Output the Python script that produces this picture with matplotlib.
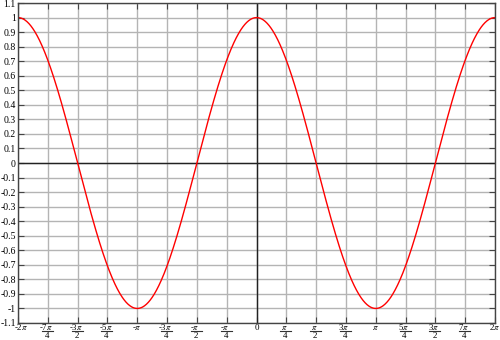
import numpy as np
import matplotlib
matplotlib.use("Agg")
import matplotlib.pyplot as plt
import matplotlib.transforms as mtransforms
from matplotlib.lines import Line2D

plt.rcParams['font.family'] = ['Liberation Serif', 'DejaVu Serif']
plt.rcParams['mathtext.fontset'] = 'stix'

# x ticks every pi/4 from -2pi to 2pi; (numerator, denominator) or (label, None)
x_tick_steps = [-8, -7, -6, -5, -4, -3, -2, -1, 0, 1, 2, 3, 4, 5, 6, 7, 8]
x_tick_labels = [('-2π', None), ('-7π', '4'), ('-3π', '2'), ('-5π', '4'),
                 ('-π', None), ('-3π', '4'), ('-π', '2'), ('-π', '4'),
                 ('0', None), ('π', '4'), ('π', '2'), ('3π', '4'),
                 ('π', None), ('5π', '4'), ('3π', '2'), ('7π', '4'), ('2π', None)]
y_ticks = [-1.1, -1.0, -0.9, -0.8, -0.7, -0.6, -0.5, -0.4, -0.3, -0.2, -0.1,
           0.0, 0.1, 0.2, 0.3, 0.4, 0.5, 0.6, 0.7, 0.8, 0.9, 1.0, 1.1]
y_tick_labels = ['-1.1', '-1', '-0.9', '-0.8', '-0.7', '-0.6', '-0.5', '-0.4', '-0.3', '-0.2', '-0.1',
                 '0', '0.1', '0.2', '0.3', '0.4', '0.5', '0.6', '0.7', '0.8', '0.9', '1', '1.1']

x = np.linspace(-2 * np.pi, 2 * np.pi, 1000)
y = np.cos(x)

W, H = 500, 340
fig = plt.figure(figsize=(W / 100, H / 100), dpi=100)
ax = fig.add_axes([0.036, 0.05, 0.954, 0.941])

ax.set_xlim(-2 * np.pi, 2 * np.pi)
ax.set_ylim(-1.1, 1.1)

xt = [k * np.pi / 4 for k in x_tick_steps]
ax.set_xticks(xt)
ax.set_xticklabels([])
ax.set_yticks(y_ticks)
ax.set_yticklabels(y_tick_labels, fontsize=7)

# x labels drawn by hand so the fractions can be stacked
trans = mtransforms.blended_transform_factory(ax.transData, fig.transFigure)
px = 4 * np.pi / 477  # data units per pixel along x
for xpos, (num, den) in zip(xt, x_tick_labels):
    num = num.replace('π', r'$\pi$')
    if den is None:
        dx = 3 * px if xpos < -6 else 0.0
        ax.text(xpos + dx, 1 - 330 / H, num, transform=trans, ha='center', va='baseline', fontsize=6.5)
    else:
        ax.text(xpos - 2 * px, 1 - 329.5 / H, num, transform=trans, ha='center', va='baseline', fontsize=6.2)
        fig.add_artist(Line2D([xpos - 6 * px, xpos + 5 * px], [1 - 331 / H, 1 - 331 / H],
                              transform=trans, color='#333333', linewidth=0.8))
        ax.text(xpos - 1 * px, 1 - 338.3 / H, den, transform=trans, ha='center', va='baseline', fontsize=6.5)

ax.grid(True, color='#b4b4b4', linewidth=1)
ax.axhline(0, color='#222222', linewidth=1)
ax.axvline(0, color='#222222', linewidth=1)

ax.plot(x, y, color='red', linewidth=1)

for s in ax.spines.values():
    s.set_color('#444444')
    s.set_linewidth(1)
ax.tick_params(direction='in', length=4, color='#444444', top=True, right=True,
               pad=1.5, labelcolor='black')

plt.savefig("out.png", dpi=100)
